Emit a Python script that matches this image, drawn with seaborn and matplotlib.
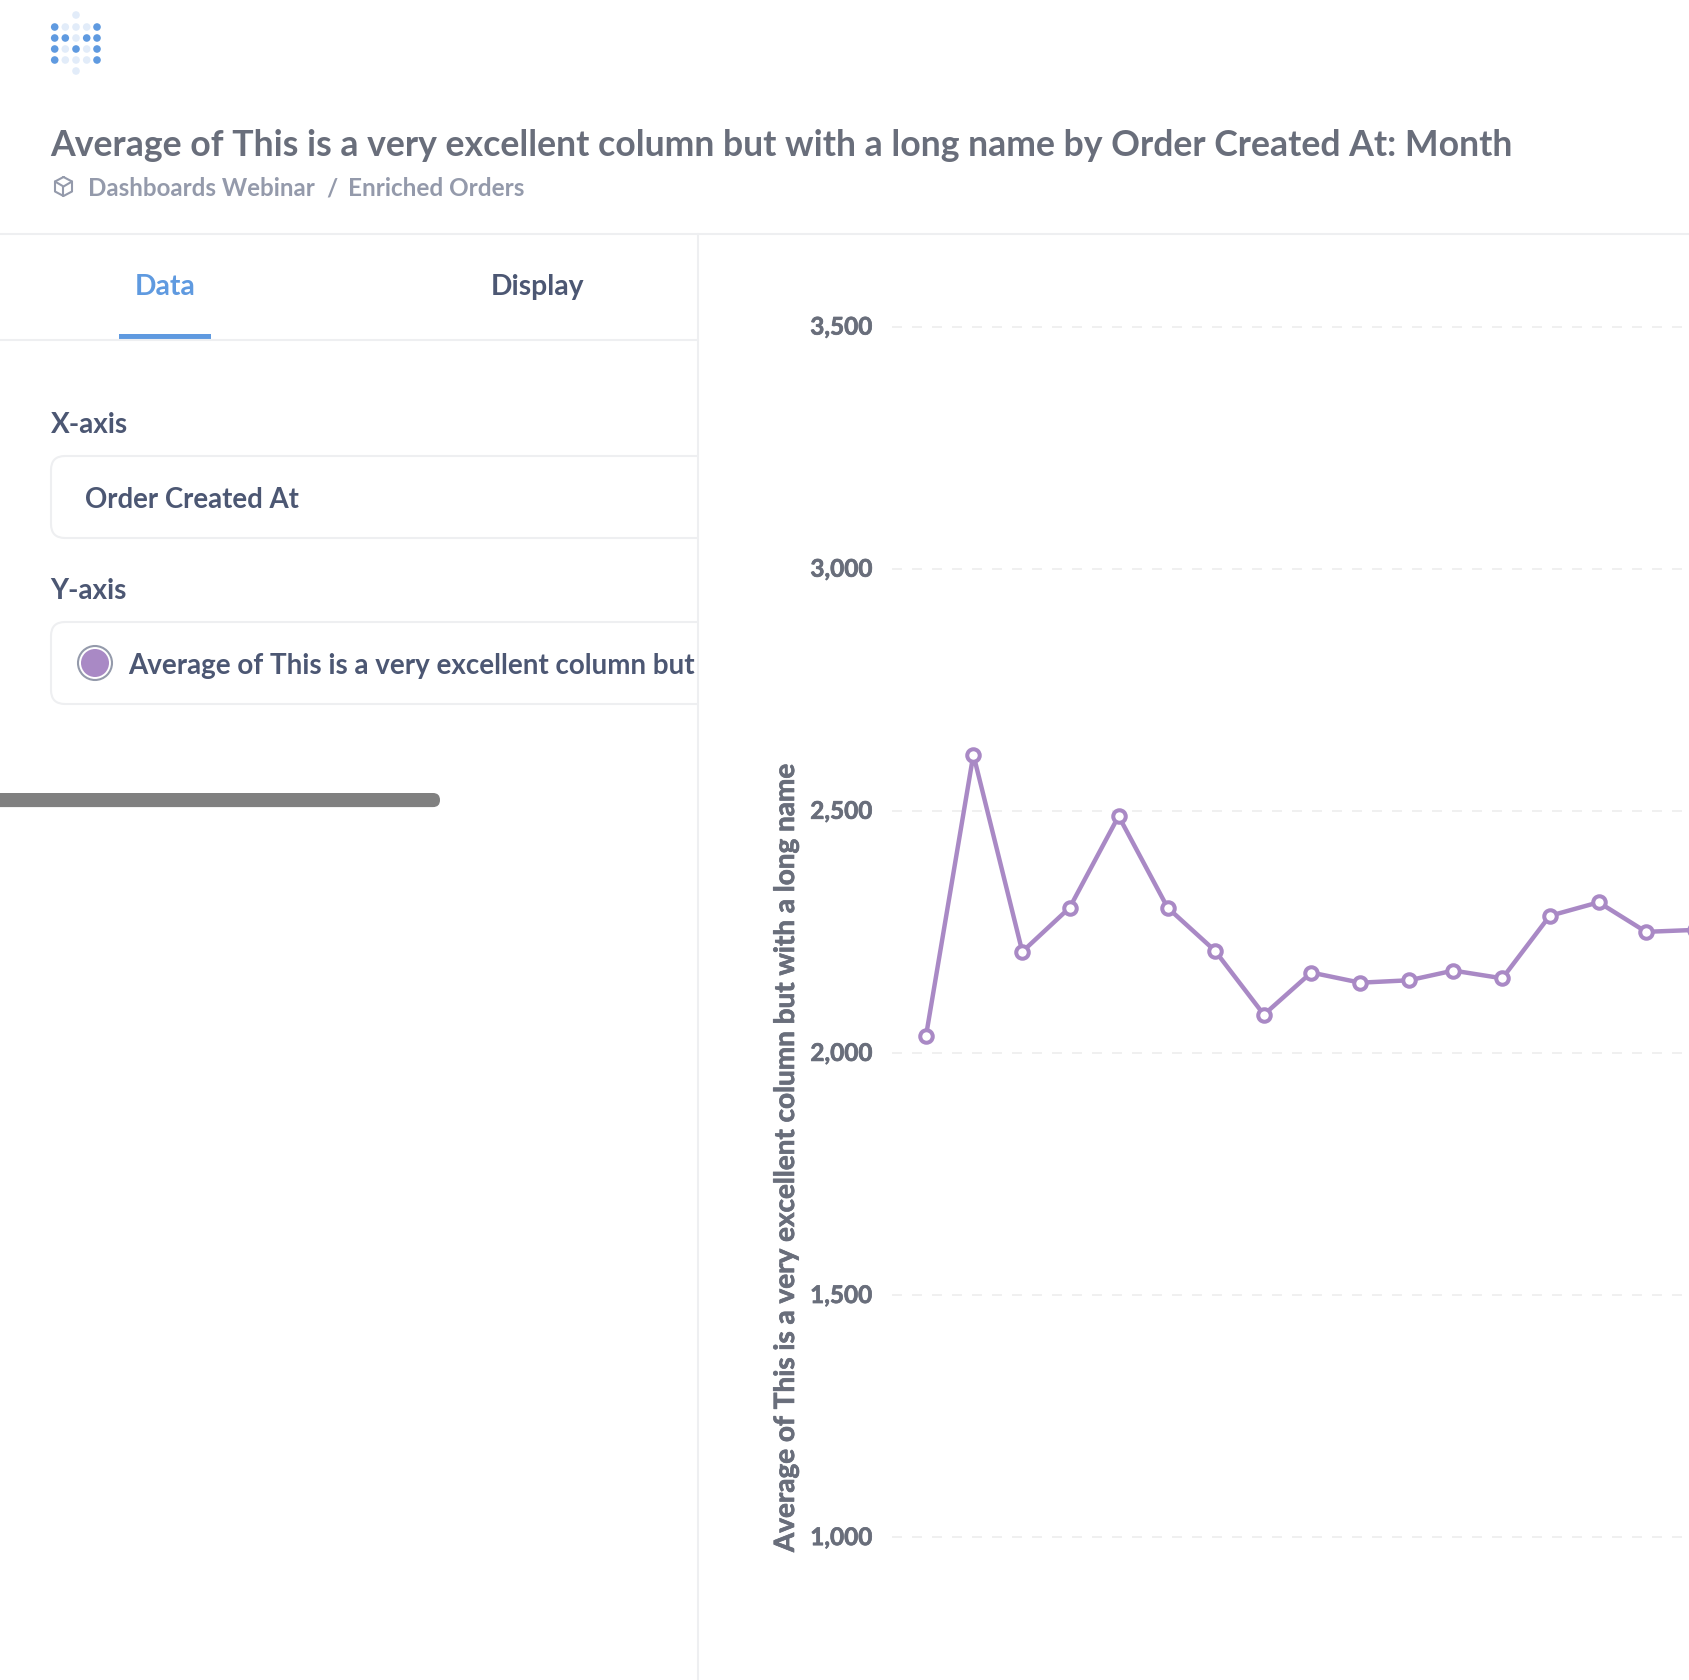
import pandas as pd
import seaborn as sns
import matplotlib.pyplot as plt
import matplotlib.patheffects as pe
from matplotlib.patches import Circle, FancyBboxPatch, Rectangle
from matplotlib.transforms import ScaledTranslation

sns.set_style("white")
plt.rcParams['font.family'] = ['Lato', 'DejaVu Sans']

# values
months = pd.date_range("2016-04-01", periods=17, freq="MS")
averages = [2035, 2616, 2209, 2300, 2489, 2300, 2211, 2079, 2166,
            2145, 2150, 2170, 2154, 2283, 2311, 2250, 2254]
y_ticks = [1000, 1500, 2000, 2500, 3000, 3500]
chart_title = "Average of This is a very excellent column but with a long name by Order Created At: Month"
y_label = "Average of This is a very excellent column but with a long name"

PURPLE = "#a989c5"
BLUE = "#5f9ae0"
LIGHT_BLUE = "#e2ecf9"
TITLE_GREY = "#696e7b"
LABEL_BLUE = "#4c5773"
CRUMB = "#949aab"
BORDER = "#eeeff1"

W, H = 1690, 1680
fig = plt.figure(figsize=(W / 100, H / 100), dpi=100, facecolor="white")

# page furniture, drawn in pixel coordinates
ui = fig.add_axes([0, 0, 1, 1])
ui.set_xlim(0, W)
ui.set_ylim(H, 0)
ui.axis("off")

# logo
dot_rows = {27: [1, 0, 0, 0, 1], 38: [1, 1, 0, 1, 1], 49: [1, 0, 1, 0, 1], 60: [1, 0, 0, 0, 1]}
dot_cols = [54.7, 65.3, 76, 86.7, 97]
for ry, row in dot_rows.items():
    for cx, on in zip(dot_cols, row):
        ui.add_patch(Circle((cx, ry), 3.8, color=BLUE if on else LIGHT_BLUE, lw=0))
ui.add_patch(Circle((76, 15), 3.8, color=LIGHT_BLUE, lw=0))
ui.add_patch(Circle((76, 71), 3.8, color=LIGHT_BLUE, lw=0))

# title and breadcrumb
ui.text(50, 145, chart_title, fontsize=25.7, fontweight="bold", color=TITLE_GREY, va="center")
ui.text(88, 189, "Dashboards Webinar", fontsize=17.4, fontweight="bold", color=CRUMB, va="center")
ui.text(332, 189, "/", fontsize=17.4, fontweight="bold", color=CRUMB, va="center", ha="center")
ui.text(348.5, 189, "Enriched Orders", fontsize=17.45, fontweight="bold", color=CRUMB, va="center")

# cube icon
cube_x = [63.5, 72, 72, 63.5, 55, 55, 63.5]
cube_y = [177, 181.5, 191.5, 196, 191.5, 181.5, 177]
ui.plot(cube_x, cube_y, color=CRUMB, lw=1.5)
ui.plot([55, 63.5, 72], [181.5, 186.5, 181.5], color=CRUMB, lw=1.5)
ui.plot([63.5, 63.5], [186.5, 196], color=CRUMB, lw=1.5)

# tabs
ui.text(165, 287, "Data", fontsize=20.3, fontweight="bold", color=BLUE, ha="center", va="center")
ui.text(538, 287, "Display", fontsize=20.3, fontweight="bold", color=LABEL_BLUE, ha="center", va="center")
ui.add_patch(Rectangle((119, 334), 92, 5, color=BLUE, lw=0))

# settings boxes
ui.text(51, 425, "X-axis", fontsize=20.1, fontweight="bold", color=LABEL_BLUE, va="center")
ui.text(50.5, 591, "Y-axis", fontsize=20.1, fontweight="bold", color=LABEL_BLUE, va="center")
for top in [456, 622]:
    ui.add_patch(FancyBboxPatch((51 + 14, top + 14), 740, 82 - 28,
                                boxstyle="round,pad=14,rounding_size=14",
                                fc="white", ec=BORDER, lw=1.5))
ui.add_patch(Rectangle((699, 400), 200, 400, color="white", lw=0, zorder=3))
ui.text(85, 500, "Order Created At", fontsize=19.9, fontweight="bold", color=LABEL_BLUE, va="center")
ui.add_patch(Circle((95, 663), 17, fc="white", ec=CRUMB, lw=1.5))
ui.add_patch(Circle((95, 663), 14, color=PURPLE, lw=0))
ui.text(128.5, 666, "Average of This is a very excellent column but", fontsize=19.95, fontweight="bold",
        color=LABEL_BLUE, va="center", zorder=4)

# grey bar
ui.add_patch(FancyBboxPatch((-20, 800), 453, 0.1, boxstyle="round,pad=7,rounding_size=7",
                            fc="#808080", ec="none"))

# divider lines
ui.plot([0, W], [234, 234], color=BORDER, lw=1.5, zorder=5)
ui.plot([0, 698], [340, 340], color=BORDER, lw=1.5, zorder=5)
ui.plot([698.5, 698.5], [234, H], color=BORDER, lw=1.5, zorder=5)

# chart area, its limits chosen so the gridlines fall where they do in the picture
left, top = 892, 300
ax = fig.add_axes([left / W, 0, (W - left) / W, (H - top) / H])
ax.patch.set_alpha(0)

px_per_unit = 242.3 / 500
px_per_day = 1.579
x_zero = 926
ax.set_ylim(1000 - (H - 1537) / px_per_unit, 3500 + (326.6 - top) / px_per_unit)

df = pd.DataFrame({"month": months, "average": averages})
sns.lineplot(data=df, x="month", y="average", ax=ax, color=PURPLE, linewidth=3.2, errorbar=None,
             marker="o", markersize=9, markerfacecolor="white",
             markeredgecolor=PURPLE, markeredgewidth=2.9, zorder=3)
ax.set_xlim(months[0] - pd.Timedelta(days=(x_zero - left) / px_per_day),
            months[0] + pd.Timedelta(days=(W - x_zero) / px_per_day))

heavy = [pe.withStroke(linewidth=0.5, foreground=TITLE_GREY)]
ax.set_yticks(y_ticks)
ax.set_yticklabels([f"{v:,}" for v in y_ticks], fontsize=17.5, fontweight="bold", color=TITLE_GREY,
                   path_effects=heavy)
ax.set_xticks([])
ax.tick_params(axis="y", length=0, pad=14.4)
# labels sit a little above their gridlines
shift = ScaledTranslation(0, 1.5 / 100, fig.dpi_scale_trans)
for tick in ax.get_yticklabels():
    tick.set_transform(tick.get_transform() + shift)
ax.grid(axis="y", color="#f0f0f0", linewidth=1.44, linestyle=(0, (5, 5)))
ax.set_axisbelow(True)
ax.set_xlabel("")
ax.set_ylabel(y_label, fontsize=20.1, fontweight="bold", color=TITLE_GREY, path_effects=heavy)
ax.yaxis.set_label_coords((799 - left) / (W - left), (H - 1159) / (H - top))
sns.despine(ax=ax, left=True, bottom=True, top=True, right=True)

fig.savefig("out.png", dpi=100, facecolor="white")
